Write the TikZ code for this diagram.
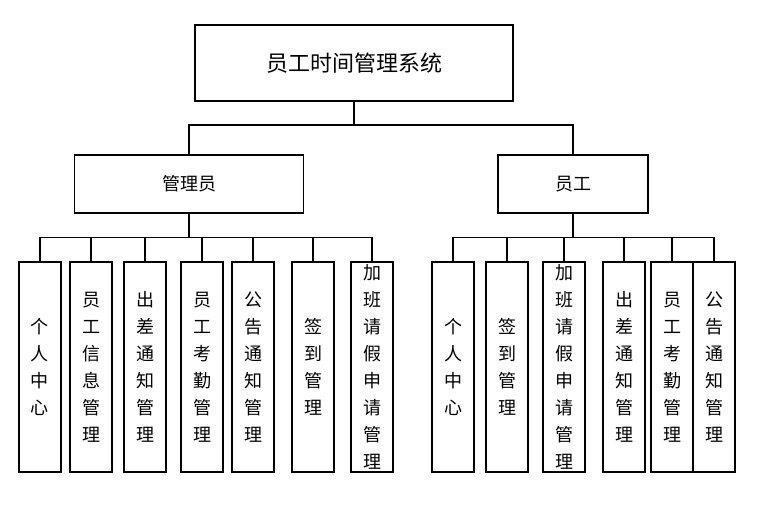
\documentclass[tikz,border=0pt]{standalone}
\usepackage{fontspec}
\setmainfont{Noto Sans CJK SC}
\usetikzlibrary{positioning}
\tikzset{
  box/.style={draw, thick, inner sep=0pt, align=center},
  leaf/.style={box, minimum width=42*0.75pt, minimum height=210*0.75pt,
    font=\fontsize{13.5}{20.25}\selectfont},
  link/.style={thick}
}
\begin{document}
\begin{tikzpicture}[x=0.75pt,y=-0.75pt]
	\useasboundingbox (0,0) rectangle (765,511);
	\node[box, minimum width=318*0.75pt, minimum height=76*0.75pt,
	  font=\fontsize{16.5}{20}\selectfont] (root) at (354,63) {员工时间管理系统};
	\node[box, minimum width=229*0.75pt, minimum height=58*0.75pt,
	  font=\fontsize{13.5}{16}\selectfont] (admin) at (189,184) {管理员};
	\node[box, minimum width=150*0.75pt, minimum height=58*0.75pt,
	  font=\fontsize{13.5}{16}\selectfont] (staff) at (573,184) {员工};
	\coordinate (bus) at (354,125);
	\draw[link] (root.south) -- (bus);
	\draw[link] (admin.north) |- (bus) -| (staff.north);
	% admin modules
	\foreach \x/\name/\txt in {40/a1/个\\人\\中\\心, 91/a2/员\\工\\信\\息\\管\\理,
	  145/a3/出\\差\\通\\知\\管\\理, 202/a4/员\\工\\考\\勤\\管\\理,
	  253/a5/公\\告\\通\\知\\管\\理, 313/a6/签\\到\\管\\理,
	  372/a7/加\\班\\请\\假\\申\\请\\管\\理}{
		\node[leaf] (\name) at (\x,367) {\txt};
		\draw[link] (admin.south) -- ++(0,24) -| (\name.north);
	}
	% staff modules
	\foreach \x/\name/\txt in {453/s1/个\\人\\中\\心, 507/s2/签\\到\\管\\理,
	  564/s3/加\\班\\请\\假\\申\\请\\管\\理, 624/s4/出\\差\\通\\知\\管\\理,
	  672/s5/员\\工\\考\\勤\\管\\理, 714/s6/公\\告\\通\\知\\管\\理}{
		\node[leaf] (\name) at (\x,367) {\txt};
		\draw[link] (staff.south) -- ++(0,24) -| (\name.north);
	}
\end{tikzpicture}
\end{document}
